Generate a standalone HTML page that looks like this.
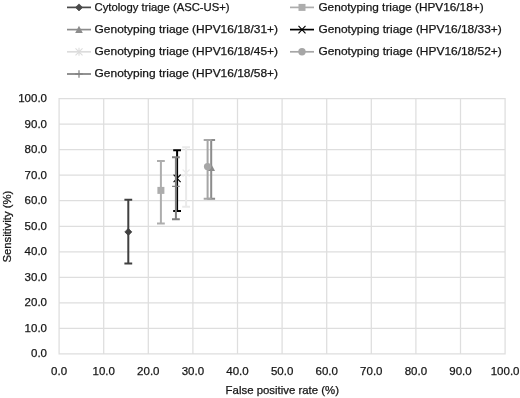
<!DOCTYPE html>
<html><head><meta charset="utf-8"><style>
html,body{margin:0;padding:0;background:#fff;width:520px;height:398px;overflow:hidden}
svg{display:block;filter:blur(0.3px)}
text{stroke:#161616;stroke-width:0.25px}
</style></head><body>
<svg width="520" height="398" viewBox="0 0 520 398"><rect width="520" height="398" fill="#fff"/><path d="M58.50 353.80H505.70 M58.50 328.29H505.70 M58.50 302.78H505.70 M58.50 277.27H505.70 M58.50 251.76H505.70 M58.50 226.25H505.70 M58.50 200.74H505.70 M58.50 175.23H505.70 M58.50 149.72H505.70 M58.50 124.21H505.70 M58.50 98.70H505.70 M59.10 98.10V354.40 M103.70 98.10V354.40 M148.30 98.10V354.40 M192.90 98.10V354.40 M237.50 98.10V354.40 M282.10 98.10V354.40 M326.70 98.10V354.40 M371.30 98.10V354.40 M415.90 98.10V354.40 M460.50 98.10V354.40 M505.10 98.10V354.40" stroke="#dedede" stroke-width="1.25" fill="none"/><g font-family='"Liberation Sans", Arial, sans-serif' font-size="11.5" fill="#161616"><text x="47" y="357.3" text-anchor="end">0.0</text><text x="47" y="331.8" text-anchor="end">10.0</text><text x="47" y="306.3" text-anchor="end">20.0</text><text x="47" y="280.8" text-anchor="end">30.0</text><text x="47" y="255.3" text-anchor="end">40.0</text><text x="47" y="229.8" text-anchor="end">50.0</text><text x="47" y="204.2" text-anchor="end">60.0</text><text x="47" y="178.7" text-anchor="end">70.0</text><text x="47" y="153.2" text-anchor="end">80.0</text><text x="47" y="127.7" text-anchor="end">90.0</text><text x="47" y="102.2" text-anchor="end">100.0</text><text x="59.1" y="374.5" text-anchor="middle">0.0</text><text x="103.7" y="374.5" text-anchor="middle">10.0</text><text x="148.3" y="374.5" text-anchor="middle">20.0</text><text x="192.9" y="374.5" text-anchor="middle">30.0</text><text x="237.5" y="374.5" text-anchor="middle">40.0</text><text x="282.1" y="374.5" text-anchor="middle">50.0</text><text x="326.7" y="374.5" text-anchor="middle">60.0</text><text x="371.3" y="374.5" text-anchor="middle">70.0</text><text x="415.9" y="374.5" text-anchor="middle">80.0</text><text x="460.5" y="374.5" text-anchor="middle">90.0</text><text x="505.1" y="374.5" text-anchor="middle">100.0</text></g><text x="282.3" y="393.5" text-anchor="middle" font-family='"Liberation Sans", Arial, sans-serif' font-size="11" fill="#161616" textLength="113.4" lengthAdjust="spacingAndGlyphs">False positive rate (%)</text><text transform="translate(10.6 226.6) rotate(-90)" x="0" y="0" text-anchor="middle" font-family='"Liberation Sans", Arial, sans-serif' font-size="11" fill="#161616" textLength="72" lengthAdjust="spacingAndGlyphs">Sensitivity (%)</text><path d="M128.30 199.80V263.50M124.40 199.80H132.20M124.40 263.50H132.20" stroke="#404040" stroke-width="2" fill="none"/><path d="M128.3 228.4L131.8 231.9L128.3 235.4L124.80000000000001 231.9Z" fill="#404040" stroke="#404040" stroke-width="0.8"/><path d="M160.90 160.90V223.60M157.00 160.90H164.80M157.00 223.60H164.80" stroke="#adadad" stroke-width="2" fill="none"/><rect x="157.4" y="186.9" width="7" height="7" fill="#adadad"/><path d="M211.20 140.00V198.80M207.30 140.00H215.10M207.30 198.80H215.10" stroke="#8c8c8c" stroke-width="2" fill="none"/><path d="M211.2 163.79999999999998L215.0 170.9L207.39999999999998 170.9Z" fill="#8c8c8c"/><path d="M177.10 150.30V211.10M173.20 150.30H181.00M173.20 211.10H181.00" stroke="#000000" stroke-width="2" fill="none"/><path d="M173.6 174.6L180.6 182.20000000000002M180.6 174.6L173.6 182.20000000000002" stroke="#000000" stroke-width="1.1" fill="none"/><path d="M186.10 147.30V206.80M182.20 147.30H190.00M182.20 206.80H190.00" stroke="#eaeaea" stroke-width="2" fill="none"/><path d="M182.6 169.5L189.6 176.5M189.6 169.5L182.6 176.5M186.1 169.0V177.0" stroke="#eaeaea" stroke-width="1.1" fill="none"/><path d="M207.60 140.00V198.80M203.70 140.00H211.50M203.70 198.80H211.50" stroke="#a6a6a6" stroke-width="2" fill="none"/><circle cx="207.6" cy="166.6" r="3.7" fill="#a6a6a6"/><path d="M175.90 157.30V219.30M172.00 157.30H179.80M172.00 219.30H179.80" stroke="#7f7f7f" stroke-width="2" fill="none"/><path d="M172.1 186.3H179.70000000000002M175.9 182.5V190.10000000000002" stroke="#7f7f7f" stroke-width="1.2" fill="none"/><path d="M67.0 7.4H91.0" stroke="#4a4a4a" stroke-width="1.7"/><path d="M79.0 3.9000000000000004L82.5 7.4L79.0 10.9L75.5 7.4Z" fill="#4a4a4a" stroke="#4a4a4a" stroke-width="0.8"/><text x="94.6" y="10.8" font-family='"Liberation Sans", Arial, sans-serif' font-size="11" fill="#161616" textLength="135" lengthAdjust="spacingAndGlyphs">Cytology triage (ASC-US+)</text><path d="M290.0 7.4H314.0" stroke="#adadad" stroke-width="1.7"/><rect x="298.5" y="3.9000000000000004" width="7" height="7" fill="#adadad"/><text x="318.4" y="10.8" font-family='"Liberation Sans", Arial, sans-serif' font-size="11" fill="#161616" textLength="165.2" lengthAdjust="spacingAndGlyphs">Genotyping triage (HPV16/18+)</text><path d="M67.0 29.6H91.0" stroke="#8c8c8c" stroke-width="1.7"/><path d="M79.0 25.8L82.8 32.9L75.2 32.9Z" fill="#8c8c8c"/><text x="94.6" y="33.0" font-family='"Liberation Sans", Arial, sans-serif' font-size="11" fill="#161616" textLength="183.4" lengthAdjust="spacingAndGlyphs">Genotyping triage (HPV16/18/31+)</text><path d="M290.0 29.6H314.0" stroke="#000000" stroke-width="1.7"/><path d="M298.5 25.8L305.5 33.4M305.5 25.8L298.5 33.4" stroke="#000000" stroke-width="1.1" fill="none"/><text x="318.4" y="33.0" font-family='"Liberation Sans", Arial, sans-serif' font-size="11" fill="#161616" textLength="183.4" lengthAdjust="spacingAndGlyphs">Genotyping triage (HPV16/18/33+)</text><path d="M67.0 51.8H91.0" stroke="#dcdcdc" stroke-width="1.7"/><path d="M75.5 48.3L82.5 55.3M82.5 48.3L75.5 55.3M79.0 47.8V55.8" stroke="#dcdcdc" stroke-width="1.1" fill="none"/><text x="94.6" y="55.2" font-family='"Liberation Sans", Arial, sans-serif' font-size="11" fill="#161616" textLength="183.4" lengthAdjust="spacingAndGlyphs">Genotyping triage (HPV16/18/45+)</text><path d="M290.0 51.8H314.0" stroke="#a6a6a6" stroke-width="1.7"/><circle cx="302.0" cy="51.8" r="3.7" fill="#a6a6a6"/><text x="318.4" y="55.2" font-family='"Liberation Sans", Arial, sans-serif' font-size="11" fill="#161616" textLength="183.4" lengthAdjust="spacingAndGlyphs">Genotyping triage (HPV16/18/52+)</text><path d="M67.0 74.0H91.0" stroke="#7f7f7f" stroke-width="1.7"/><path d="M75.2 74.0H82.8M79.0 70.2V77.8" stroke="#7f7f7f" stroke-width="1.2" fill="none"/><text x="94.6" y="77.4" font-family='"Liberation Sans", Arial, sans-serif' font-size="11" fill="#161616" textLength="183.4" lengthAdjust="spacingAndGlyphs">Genotyping triage (HPV16/18/58+)</text></svg>
</body></html>
